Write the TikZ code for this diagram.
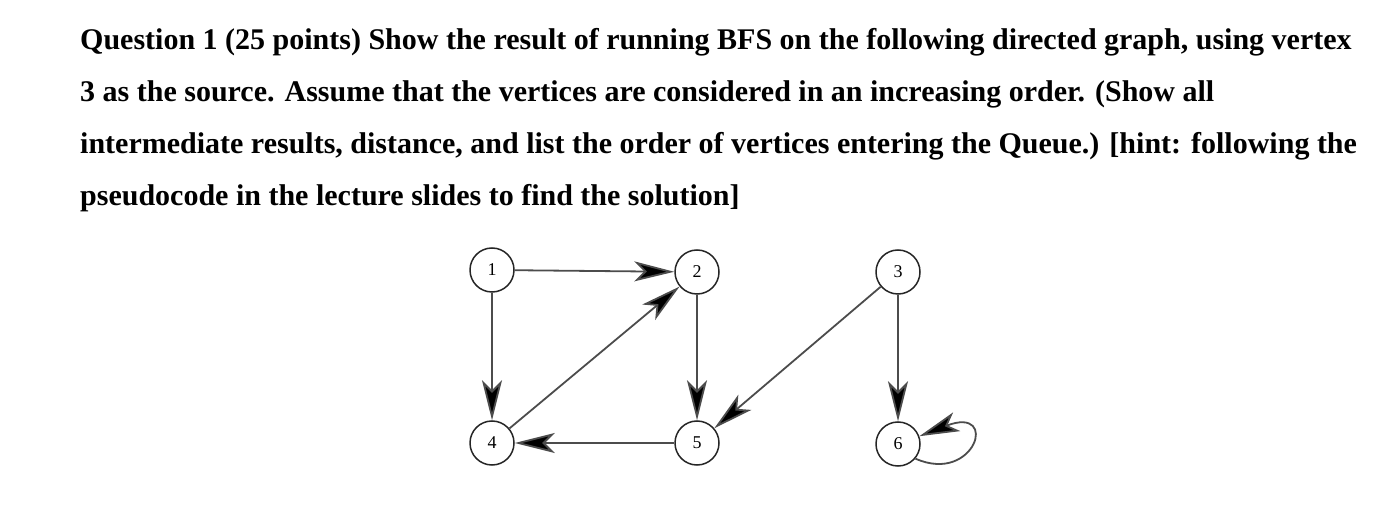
\documentclass[tikz,border=0pt]{standalone}
\usepackage{fontspec}
\setmainfont{Liberation Serif}
\usetikzlibrary{arrows.meta}
\begin{document}
\begin{tikzpicture}[x=1pt,y=-1pt,
  txt/.style={anchor=base west,inner sep=0pt,font=\fontsize{30}{34}\selectfont\bfseries},
  vtx/.style={circle,draw=black!85,line width=1.5pt,minimum size=44pt,inner sep=0pt,font=\fontsize{18}{20}\selectfont},
  edge/.style={draw=black!70,line width=1.8pt,-{Stealth[length=40pt,width=20pt,inset=10pt,fill=black]}}]
\useasboundingbox (0,0) rectangle (1387,526);
\node[txt] (l1) at (80,50) {Question 1 (25 points) Show the result of running BFS on the following directed graph, using vertex};
\node[txt] (l2) at (80,102) {3 as the source. Assume that the vertices are considered in an increasing order. (Show all};
\node[txt] (l3) at (80,154) {intermediate results, distance, and list the order of vertices entering the Queue.) [hint: following the};
\node[txt] (l4) at (80,206) {pseudocode in the lecture slides to find the solution]};
\node[vtx] (v1) at (492,270) {1};
\node[vtx] (v2) at (697,272) {2};
\node[vtx] (v3) at (898,272) {3};
\node[vtx] (v4) at (492,443) {4};
\node[vtx] (v5) at (697,443) {5};
\node[vtx] (v6) at (898,444) {6};
\draw[edge] (v1) -- (v2);
\draw[edge] (v1) -- (v4);
\draw[edge] (v4) -- (v2);
\draw[edge] (v2) -- (v5);
\draw[edge] (v5) -- (v4);
\draw[edge] (v3) -- (v5);
\draw[edge] (v3) -- (v6);
\draw[edge] (v6.-40) .. controls (975,485) and (1000,405) .. (v6.20);
\end{tikzpicture}
\end{document}
